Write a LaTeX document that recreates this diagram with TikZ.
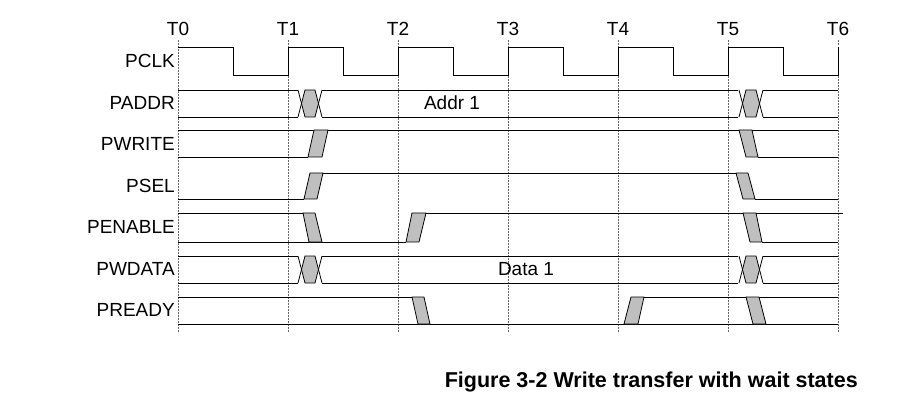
\documentclass[tikz,border=0pt]{standalone}
\usepackage{fontspec}
\setmainfont{Liberation Sans}
\begin{document}
\begin{tikzpicture}[x=1pt,y=-1pt,
  sig/.style={line width=0.8pt},
  tr/.style={fill=black!25,draw=black,line width=0.8pt,line join=round},
  lab/.style={anchor=east,font=\fontsize{19}{21}\selectfont,inner sep=0pt},
  tlab/.style={anchor=south,font=\fontsize{19}{21}\selectfont,inner sep=0pt},
  grid/.style={densely dotted,black!60,line width=0.5pt}]
\useasboundingbox (0,0) rectangle (903,401);
% time markers
\foreach \i in {0,...,6}{
  \pgfmathsetmacro\xx{178+110*\i}
  \node[tlab] (t\i) at (\xx,36) {T\i};
  \draw[grid] (\xx,40) -- (\xx,332);
}
% labels
\node[lab] (pclk) at (175,61) {PCLK};
\node[lab] (paddr) at (175,103) {PADDR};
\node[lab] (pwrite) at (175,144) {PWRITE};
\node[lab] (psel) at (175,186) {PSEL};
\node[lab] (penable) at (175,227) {PENABLE};
\node[lab] (pwdata) at (175,269) {PWDATA};
\node[lab] (pready) at (175,310) {PREADY};
% PCLK
\draw[sig] (178,47) \foreach \k in {0,...,5}{ -- ({233+110*\k},47) -- ({233+110*\k},75) -- ({288+110*\k},75) -- ({288+110*\k},47)} ;
\draw[sig] (783,47) -- (783,75) -- (838,75) -- (838,63);
\draw[sig,white] (838,47) -- (838,46);
% bus macro
\newcommand{\busx}[4]{% left x, top, bot, right end
  \pgfmathsetmacro\ya{#2}\pgfmathsetmacro\yb{#3}\pgfmathsetmacro\ym{(#2+#3)/2}
  \fill[black!25] (#1+3.5,\ym) -- (#1+7,\ya) -- (#1+17,\ya) -- (#1+20.5,\ym) -- (#1+17,\yb) -- (#1+7,\yb) -- cycle;
  \draw[sig] (#1,\ya) -- (#1+7,\yb) -- (#1+17,\yb) -- (#1+24,\ya);
  \draw[sig] (#1,\yb) -- (#1+7,\ya) -- (#1+17,\ya) -- (#1+24,\yb);
}
% PADDR
\draw[sig] (178,90) -- (298,90) (178,117) -- (298,117);
\busx{298}{90}{117}{}
\draw[sig] (322,90) -- (738,90) (322,117) -- (738,117);
\busx{739}{90}{117}{}
\draw[sig] (763,90) -- (838,90) (763,117) -- (838,117);
\node[font=\fontsize{19}{21}\selectfont] (addr) at (452,103) {Addr 1};
% PWDATA
\draw[sig] (178,256) -- (298,256) (178,283) -- (298,283);
\busx{298}{256}{283}{}
\draw[sig] (322,256) -- (738,256) (322,283) -- (738,283);
\busx{739}{256}{283}{}
\draw[sig] (763,256) -- (838,256) (763,283) -- (838,283);
\node[font=\fontsize{19}{21}\selectfont] (data) at (526,269) {Data 1};
% PWRITE
\draw[sig] (178,130) -- (838,130);
\draw[sig] (178,157) -- (308,157);
\draw[tr] (308,157) -- (322,157) -- (328,130) -- (314,130) -- cycle;
\draw[tr] (739,130) -- (752,130) -- (758,157) -- (746,157) -- cycle;
\draw[sig] (758,157) -- (838,157);
% PSEL
\draw[sig] (178,199) -- (304,199);
\draw[tr] (304,199) -- (317,199) -- (323,173) -- (310,173) -- cycle;
\draw[sig] (323,173) -- (736,173);
\draw[tr] (736,173) -- (748,173) -- (755,199) -- (743,199) -- cycle;
\draw[sig] (755,199) -- (838,199);
% PENABLE
\draw[sig] (178,213) -- (303,213);
\draw[sig] (178,242) -- (406,242);
\draw[tr] (303,213) -- (315,213) -- (322,242) -- (309,242) -- cycle;
\draw[tr] (406,242) -- (419,242) -- (426,213) -- (412,213) -- cycle;
\draw[sig] (426,213) -- (843,213);
\draw[tr] (743,213) -- (756,213) -- (762,242) -- (750,242) -- cycle;
\draw[sig] (762,242) -- (838,242);
% PREADY
\draw[sig] (178,297) -- (412,297);
\draw[sig] (178,324) -- (838,324);
\draw[tr] (412,297) -- (424,297) -- (430,324) -- (418,324) -- cycle;
\draw[tr] (624,324) -- (638,324) -- (644,297) -- (631,297) -- cycle;
\draw[sig] (644,297) -- (838,297);
\draw[tr] (746,297) -- (759,297) -- (766,324) -- (753,324) -- cycle;
% caption
\node[anchor=east,font=\bfseries\fontsize{21.5}{24}\selectfont,inner sep=0pt] (cap) at (858,382) {Figure 3-2 Write transfer with wait states};
\end{tikzpicture}
\end{document}
